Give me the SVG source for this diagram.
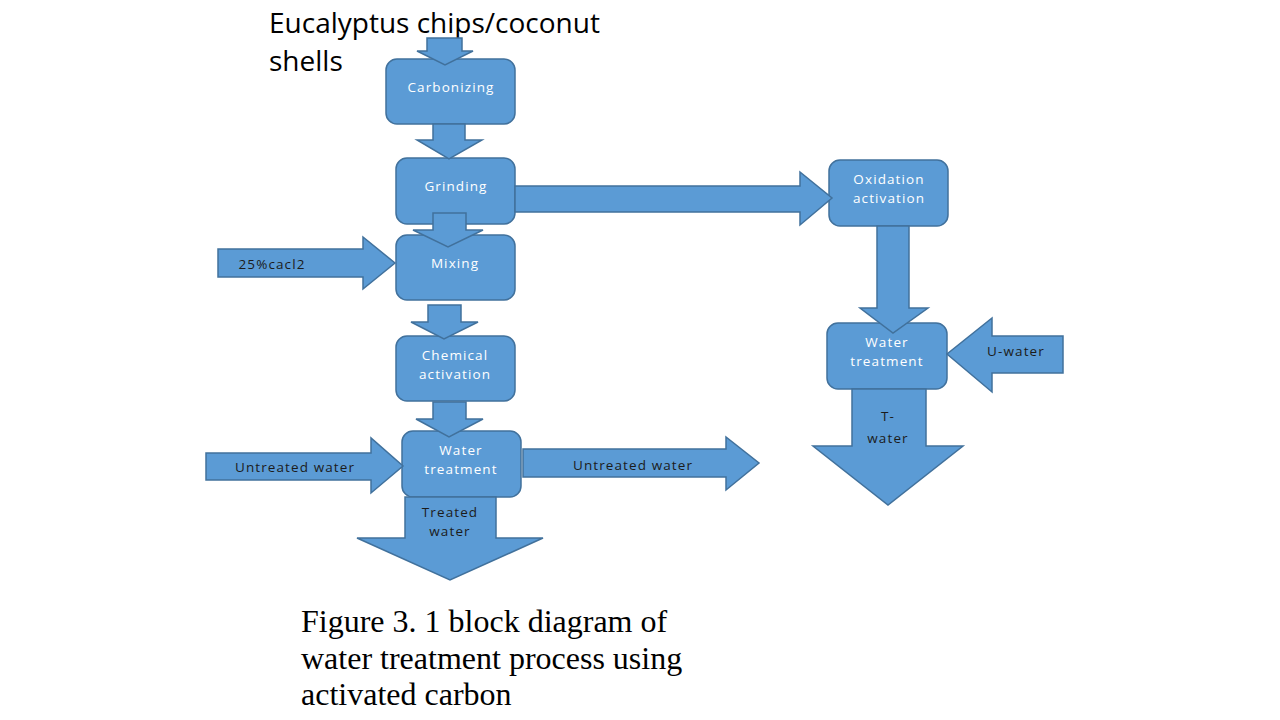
<svg xmlns="http://www.w3.org/2000/svg" width="1280" height="720" viewBox="0 0 1280 720">
<style>
.box{fill:#5B9BD5;stroke:#41719C;stroke-width:1.5}
.arr{fill:#5B9BD5;stroke:#41719C;stroke-width:1.5;stroke-linejoin:miter}
.wt{font-family:"Open Sans","Liberation Sans",sans-serif;font-size:13.5px;letter-spacing:1.1px;fill:#ffffff;text-anchor:middle;dominant-baseline:central}
.dt{font-family:"Open Sans","Liberation Sans",sans-serif;font-size:13.5px;letter-spacing:1.1px;fill:#1b1b1b;text-anchor:middle;dominant-baseline:central}
.title{font-family:"Open Sans","Liberation Sans",sans-serif;font-size:28px;fill:#000}
.cap{font-family:"Liberation Serif","Times New Roman",serif;font-size:32px;fill:#000}
</style>
<rect width="1280" height="720" fill="#ffffff"/>
<text class="title" x="269" y="33">Eucalyptus chips/coconut</text>
<text class="title" x="269" y="71">shells</text>
<g id="carbonizing"><rect class="box" x="386" y="59" width="129" height="65" rx="11"/><text class="wt" x="451" y="87">Carbonizing</text></g>
<g id="grinding"><rect class="box" x="396" y="158" width="119" height="66" rx="11"/><text class="wt" x="456" y="186">Grinding</text></g>
<g id="mixing"><rect class="box" x="396" y="235" width="119" height="65" rx="11"/><text class="wt" x="455" y="263">Mixing</text></g>
<g id="chemical"><rect class="box" x="396" y="336" width="119" height="65" rx="11"/><text class="wt" x="455" y="355">Chemical</text><text class="wt" x="455" y="374">activation</text></g>
<g id="water1"><rect class="box" x="402" y="431" width="119" height="66" rx="11"/><text class="wt" x="461" y="450">Water</text><text class="wt" x="461" y="469">treatment</text></g>
<g id="oxidation"><rect class="box" x="829" y="160" width="119" height="66" rx="11"/><text class="wt" x="889" y="179">Oxidation</text><text class="wt" x="889" y="198">activation</text></g>
<g id="water2"><rect class="box" x="827" y="323" width="120" height="66" rx="11"/><text class="wt" x="887" y="342">Water</text><text class="wt" x="887" y="361">treatment</text></g>
<g id="connectors">
<polygon class="arr" points="427,38 462,38 462,51 473,51 445,65 417,51 427,51"/>
<polygon class="arr" points="433,124 465,124 465,140 482,140 449,159 417,140 433,140"/>
<polygon class="arr" points="433,213 466,213 466,230 483,230 448,247 413,230 433,230"/>
<polygon class="arr" points="218,249 363,249 363,237 395,263 363,289 363,277 218,277"/>
<text class="dt" x="272" y="264">25%cacl2</text>
<polygon class="arr" points="428,305 461,305 461,322 478,322 444,339 411,322 428,322"/>
<polygon class="arr" points="433,402 466,402 466,419 483,419 449,437 416,419 433,419"/>
<polygon class="arr" points="206,453 371,453 371,438 403,466 371,493 371,480 206,480"/>
<text class="dt" x="295" y="467">Untreated water</text>
<polygon class="arr" points="523,449 726,449 726,437 759,463 726,490 726,477 523,477"/>
<text class="dt" x="633" y="465">Untreated water</text>
<polygon class="arr" points="405,497 496,497 496,538 543,538 450,580 357,538 405,538"/>
<text class="dt" x="450" y="512">Treated</text>
<text class="dt" x="450" y="531">water</text>
<polygon class="arr" points="515,186 800,186 800,172 832,198 800,225 800,212 515,212"/>
<polygon class="arr" points="877,226 909,226 909,308 928,308 893,333 860,308 877,308"/>
<polygon class="arr" points="1063,336 992,336 992,318 947,354 992,392 992,373 1063,373"/>
<text class="dt" x="1016" y="351">U-water</text>
<polygon class="arr" points="852,389 926,389 926,446 963,446 888,505 813,446 852,446"/>
<text class="dt" x="888" y="416">T-</text>
<text class="dt" x="888" y="438">water</text>
</g>
<text class="cap" x="301" y="632">Figure 3. 1 block diagram of</text>
<text class="cap" x="301" y="669">water treatment process using</text>
<text class="cap" x="301" y="705">activated carbon</text>
</svg>
